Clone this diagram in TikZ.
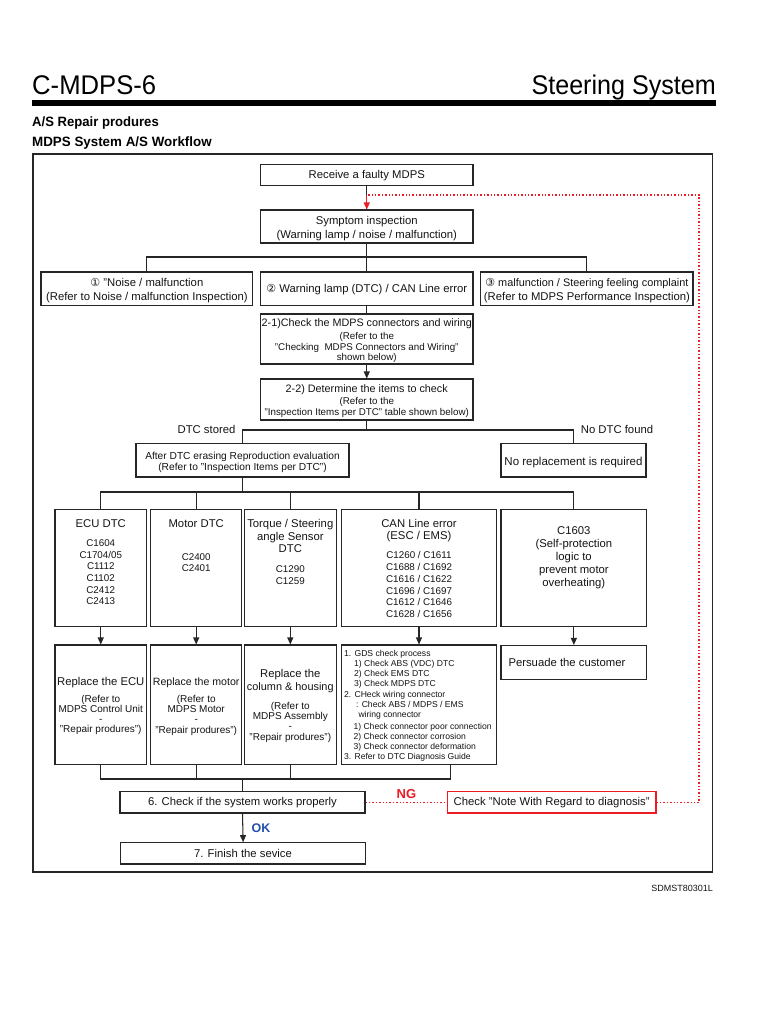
\documentclass[tikz,border=0pt]{standalone}
\usepackage{graphicx}
\usepackage{fontspec}
\setmainfont{Liberation Sans}
\newfontfamily\circfont{DejaVu Sans}
\usetikzlibrary{arrows.meta,fit}
\definecolor{ngred}{RGB}{236,28,36}
\definecolor{okblue}{RGB}{35,80,170}
\newcommand\fs[1]{\fontsize{#1}{#1}\selectfont}
\newcommand\cn[1]{{\circfont\fontsize{11}{11}\selectfont #1}}
\begin{document}
\begin{tikzpicture}[x=1pt,y=-1pt,
  box/.style={draw=black!85, line width=1.05pt, inner sep=0pt},
  notebox/.style={draw=ngred, line width=1.5pt, inner sep=0pt},
  tx/.style={inner sep=0pt, text height=0.72em, text depth=0pt, text=black!92},
  tm/.style={tx, font=\fs{11.3}},
  tsub/.style={tx, font=\fs{9.8}},
  tcode/.style={tx, font=\fs{9.8}},
  trep/.style={tx, font=\fs{10}},
  tgds/.style={tx, font=\fs{8.6}, anchor=west},
  ln/.style={draw=black!85, line width=1.05pt},
  arr/.style={ln, -{Triangle[length=7pt,width=6pt]}},
  reddot/.style={draw=ngred, line width=1.4pt, dotted}]
\useasboundingbox (0,0) rectangle (768,1024);
\fill[white] (0,0) rectangle (768,1024);

% header
\node[inner sep=0pt, anchor=base west, font=\fs{27}] (hdl) at (32,94.3) {\scalebox{0.95}[1]{C-MDPS-6}};
\node[inner sep=0pt, anchor=base east, font=\fs{27}] (hdr) at (716,94.3) {\scalebox{0.93}[1]{Steering System}};
\fill[black] (32,100.5) rectangle (716,105.8);
\node[inner sep=0pt, anchor=base west, font=\fs{13.5}\bfseries] (h2) at (32,126.5) {\scalebox{0.97}[1]{A/S Repair produres}};
\node[inner sep=0pt, anchor=base west, font=\fs{13.5}\bfseries] (h3) at (32,146.4) {\scalebox{0.99}[1]{MDPS System A/S Workflow}};

% frame
\draw[line width=1.5pt, black!85] (33,154) rectangle (712.5,872);

% boxes
\node[box, fit={(260.5,164.5) (473,185.5)}] (recv) {};
\node[box, fit={(260.5,210) (473,243)}] (symp) {};
\node[box, fit={(41,272) (252.7,305.5)}] (b1) {};
\node[box, fit={(260.5,272) (473,305.5)}] (b2) {};
\node[box, fit={(480.7,272) (693,305.5)}] (b3) {};
\node[box, fit={(260.5,314) (473,364)}] (b21) {};
\node[box, fit={(260.5,379) (473,420)}] (b22) {};
\node[box, fit={(136,443.5) (349,477)}] (after) {};
\node[box, fit={(501,443.5) (646,477)}] (norepl) {};
\node[box, fit={(55,509.5) (146.5,626.7)}] (ecu) {};
\node[box, fit={(150.7,509.5) (241.7,626.7)}] (mot) {};
\node[box, fit={(244.3,509.5) (336.3,626.7)}] (tor) {};
\node[box, fit={(341.7,509.5) (496.3,626.7)}] (can) {};
\node[box, fit={(501,509.5) (646.7,626.7)}] (c16) {};
\node[box, fit={(55,645) (146.5,764.3)}] (repE) {};
\node[box, fit={(150.7,645) (241.7,764.3)}] (repM) {};
\node[box, fit={(244.3,645) (336.3,764.3)}] (repC) {};
\node[box, fit={(341.7,645) (496.3,764.3)}] (gds) {};
\node[box, fit={(501,645.5) (646.7,679.3)}] (pers) {};
\node[box, fit={(120,791.7) (365,813)}] (six) {};
\node[notebox, fit={(447.6,791.7) (655.8,813)}] (note) {};
\node[box, fit={(120.6,842.7) (365.7,864)}] (fin) {};

% texts
\node[tm] (recvT) at (366.75,175) {Receive a faulty MDPS};
\node[tm] (sympT1) at (366.75,220.7) {Symptom inspection};
\node[tm] (sympT2) at (366.75,235) {(Warning lamp / noise / malfunction)};
\node[tm] (b1T1) at (146.9,283.3) {\cn{①} "Noise / malfunction};
\node[tm] (b1T2) at (146.9,296.7) {(Refer to Noise / malfunction Inspection)};
\node[tm] (b2T) at (366.75,288.5) {\cn{②} Warning lamp (DTC) / CAN Line error};
\node[tx, font=\fs{10.9}] (b3T1) at (586.9,283.3) {\cn{③} malfunction / Steering feeling complaint};
\node[tm] (b3T2) at (586.9,296.7) {(Refer to MDPS Performance Inspection)};

\node[tx, font=\fs{10.8}] (b21T1) at (366.75,323.3) {2-1)Check the MDPS connectors and wiring};
\node[tsub] (b21T2) at (366.75,335.7) {(Refer to the};
\node[tsub] (b21T3) at (366.75,346.7) {"Checking\ \ MDPS Connectors and Wiring"};
\node[tsub] (b21T4) at (366.75,357.3) {shown below)};
\node[tx, font=\fs{10.8}] (b22T1) at (366.75,389.3) {2-2) Determine the items to check};
\node[tsub] (b22T2) at (366.75,400.7) {(Refer to the};
\node[tsub] (b22T3) at (366.75,412) {"Inspection Items per DTC" table shown below)};

\node[tm] (dtcS) at (206.5,430) {DTC stored};
\node[tm] (noDtc) at (617,430) {No DTC found};
\node[tx, font=\fs{10.2}] (afT1) at (242.5,455.7) {After DTC erasing Reproduction evaluation};
\node[tx, font=\fs{10.2}] (afT2) at (242.5,466.7) {(Refer to "Inspection Items per DTC")};
\node[tx, font=\fs{11.5}] (noreT) at (573.5,461.7) {No replacement is required};

% DTC boxes text
\node[tm] (ecuT) at (100.75,524) {ECU DTC};
\node[tcode] (ecuC1) at (100.75,542.7) {C1604};
\node[tcode] (ecuC2) at (100.75,554.4) {C1704/05};
\node[tcode] (ecuC3) at (100.75,566.1) {C1112};
\node[tcode] (ecuC4) at (100.75,577.8) {C1102};
\node[tcode] (ecuC5) at (100.75,589.5) {C2412};
\node[tcode] (ecuC6) at (100.75,601.2) {C2413};

\node[tm] (motT) at (196.2,524) {Motor DTC};
\node[tcode] (motC1) at (196.2,556.5) {C2400};
\node[tcode] (motC2) at (196.2,568) {C2401};

\node[tm] (torT1) at (290.3,524) {Torque / Steering};
\node[tm] (torT2) at (290.3,536.7) {angle Sensor};
\node[tm] (torT3) at (290.3,549.3) {DTC};
\node[tcode] (torC1) at (290.3,569.3) {C1290};
\node[tcode] (torC2) at (290.3,580.7) {C1259};

\node[tm] (canT1) at (419,524) {CAN Line error};
\node[tm] (canT2) at (419,536) {(ESC / EMS)};
\node[tcode] (canC1) at (419,555.3) {C1260 / C1611};
\node[tcode] (canC2) at (419,567) {C1688 / C1692};
\node[tcode] (canC3) at (419,578.7) {C1616 / C1622};
\node[tcode] (canC4) at (419,590.4) {C1696 / C1697};
\node[tcode] (canC5) at (419,602.1) {C1612 / C1646};
\node[tcode] (canC6) at (419,613.8) {C1628 / C1656};

\node[tm] (c16T1) at (573.85,530.7) {C1603};
\node[tm] (c16T2) at (573.85,544) {(Self-protection};
\node[tm] (c16T3) at (573.85,557.1) {logic to};
\node[tm] (c16T4) at (573.85,570.2) {prevent motor};
\node[tm] (c16T5) at (573.85,583.3) {overheating)};

% second row text
\node[tm] (repET1) at (100.75,681.7) {Replace the ECU};
\node[trep] (repET2) at (100.75,699.3) {(Refer to};
\node[trep] (repET3) at (100.75,709) {MDPS Control Unit};
\node[trep] (repET4) at (100.75,718.5) {-};
\node[trep] (repET5) at (100.75,729) {"Repair produres")};

\node[tx, font=\fs{10.6}] (repMT1) at (196.2,681.7) {Replace the motor};
\node[trep] (repMT2) at (196.2,699.3) {(Refer to};
\node[trep] (repMT3) at (196.2,709.3) {MDPS Motor};
\node[trep] (repMT4) at (196.2,718.5) {-};
\node[trep] (repMT5) at (196.2,729.5) {"Repair produres")};

\node[tm] (repCT1) at (290.3,674.3) {Replace the};
\node[tx, font=\fs{10.9}] (repCT2) at (290.3,687.3) {column \& housing};
\node[trep] (repCT3) at (290.3,706) {(Refer to};
\node[trep] (repCT4) at (290.3,716) {MDPS Assembly};
\node[trep] (repCT5) at (290.3,725.7) {-};
\node[trep] (repCT6) at (290.3,736.7) {"Repair produres")};

\node[tgds] (g1) at (344,653.3) {1. GDS check process};
\node[tgds] (g2) at (354,663.3) {1) Check ABS (VDC) DTC};
\node[tgds] (g3) at (354,673.3) {2) Check EMS DTC};
\node[tgds] (g4) at (354,683.3) {3) Check MDPS DTC};
\node[tgds] (g5) at (344,694.3) {2. CHeck wiring connector};
\node[tgds] (g6) at (356,704.3) {: Check ABS / MDPS / EMS};
\node[tgds] (g7) at (358.3,714.3) {wiring connector};
\node[tgds] (g8) at (353.3,725.7) {1) Check connector poor connection};
\node[tgds] (g9) at (353.3,735.7) {2) Check connector corrosion};
\node[tgds] (g10) at (353.3,746) {3) Check connector deformation};
\node[tgds] (g11) at (344,756) {3. Refer to DTC Diagnosis Guide};

\node[tm, anchor=west] (persT) at (508.3,663.3) {Persuade the customer};

\node[tm] (sixT) at (242.5,802.3) {6. Check if the system works properly};
\node[tm] (noteT) at (551.7,802.3) {Check "Note With Regard to diagnosis"};
\node[tx, font=\fs{13}\bfseries, text=ngred] (ng) at (406.4,795) {NG};
\node[tx, font=\fs{12.5}\bfseries, text=okblue] (ok) at (261,829) {OK};
\node[tm] (finT) at (243,853.5) {7. Finish the sevice};
\node[tx, font=\fs{9}, anchor=east] (sdm) at (713,888) {SDMST80301L};

% connectors
\draw[ln] (recv.south) -- (symp.north);
\coordinate (j00) at (366.75,257);
\draw[ln] (symp.south) -- (b2.north);
\draw[ln] (b1.north) |- (j00);
\draw[ln] (b3.north) |- (j00);
\draw[ln] (b2.south) -- (b21.north);
\draw[arr] (b21.south) -- (b22.north);
\coordinate (j0) at (366.75,430);
\draw[ln] (b22.south) -- (j0);
\draw[ln] (after.north) |- (j0);
\draw[ln] (norepl.north) |- (j0);
\coordinate (j1) at (242.5,492);
\draw[ln] (after.south) -- (j1);
\foreach \n in {ecu,mot,tor,can,c16} \draw[ln] (\n.north) |- (j1);
\draw[arr] (ecu.south) -- (repE.north);
\draw[arr] (mot.south) -- (repM.north);
\draw[arr] (tor.south) -- (repC.north);
\draw[arr] (can.south) -- (gds.north);
\draw[arr] (c16.south) -- (pers.north);
\coordinate (j2) at (242.5,779);
\draw[ln] (repE.south) |- (j2);
\draw[ln] (repM.south) |- (j2);
\draw[ln] (repC.south) |- (j2);
\draw[ln] ([xshift=109.3pt]gds.south west) |- (j2);
\draw[ln] (j2) -- (six.north);
\draw[arr] (six.south) -- (fin.north);

% NG loop
\draw[reddot] (six.east) -- (note.west);
\coordinate (rc1) at (699,802.35);
\coordinate (rc2) at (699,195);
\coordinate (rc3) at (366.75,195);
\draw[reddot] (note.east) -- (rc1) -- (rc2) -- (rc3);
\draw[draw=ngred, line width=1.1pt, -{Triangle[length=7pt,width=6pt]}] (rc3) -- (symp.north);
\end{tikzpicture}
\end{document}
